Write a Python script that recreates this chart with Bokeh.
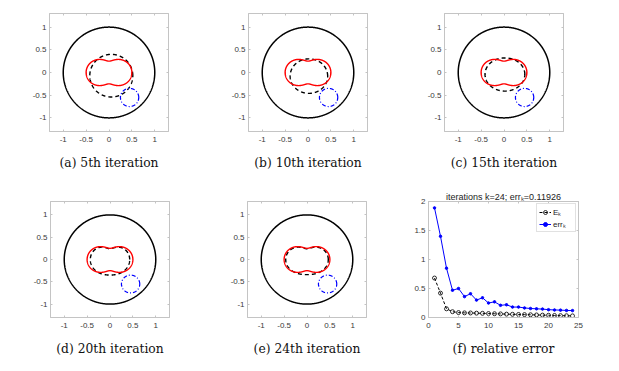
import numpy as np
from bokeh.plotting import figure
from bokeh.layouts import row, column
from bokeh.models import Range1d, FixedTicker, LinearAxis, Legend, LegendItem
from bokeh.embed import file_html
from bokeh.resources import INLINE

# ---------------- data ----------------
captions = ["(a) 5th iteration", "(b) 10th iteration", "(c) 15th iteration",
            "(d) 20th iteration", "(e) 24th iteration"]
circle_ticks = [-1, -0.5, 0, 0.5, 1]
circle_tick_labels = ["-1", "-0.5", "0", "0.5", "1"]

outer_radius = 1.0
source_cx, source_cy, source_r = 0.45, -0.55, 0.2
true_a, true_b = 0.5, 0.25          # peanut obstacle (semi-axes)

# reconstructed boundary per iteration: centre, scales, peanut weight (upper / lower half)
rec_cx    = [0.05, 0.02, 0.02, 0.0, 0.0]
rec_cy    = [-0.07, -0.08, -0.04, 0.0, 0.0]
rec_sx    = [0.47, 0.41, 0.435, 0.43, 0.465]
rec_sy_up = [0.47, 0.40, 0.38, 0.48, 0.48]
rec_sy_dn = [0.47, 0.38, 0.37, 0.41, 0.40]
rec_w_up  = [0.0, 0.1, 0.1, 1.0, 1.0]
rec_w_dn  = [0.0, 0.0, 0.0, 0.3, 0.3]

iters = list(range(1, 25))
E_k = [0.68, 0.42, 0.15, 0.10, 0.085, 0.08, 0.078, 0.075, 0.072, 0.068, 0.065, 0.062,
       0.058, 0.055, 0.052, 0.05, 0.047, 0.044, 0.041, 0.038, 0.035, 0.032, 0.03, 0.028]
err_k = [1.89, 1.40, 0.85, 0.47, 0.50, 0.36, 0.41, 0.30, 0.34, 0.25, 0.27, 0.21,
         0.22, 0.18, 0.18, 0.165, 0.155, 0.15, 0.145, 0.135, 0.13, 0.127, 0.122, 0.11926]
f_xticks = [0, 5, 10, 15, 20, 25]
f_yticks = [0, 0.5, 1, 1.5, 2]
f_ytick_labels = ["0", "0.5", "1", "1.5", "2"]
f_title = "iterations k=24; err\u2096=0.11926"

# ---------------- styling ----------------
FRAME = "#c4c4c4"
TICKLAB = "#3a3a3a"
SANS = "Liberation Sans"
SERIF = "DejaVu Serif"

th = np.linspace(0, 2 * np.pi, 721)
ct, st = np.cos(th), np.sin(th)
peanut_base = np.sqrt(ct ** 2 + (true_b / true_a) ** 2 * st ** 2)


def style_axes(p, xt, xl, yt, yl, caption):
    p.xaxis.ticker = FixedTicker(ticks=xt)
    p.yaxis.ticker = FixedTicker(ticks=yt)
    p.xaxis.major_label_overrides = {t: l for t, l in zip(xt, xl)}
    p.yaxis.major_label_overrides = {t: l for t, l in zip(yt, yl)}
    for ax in (p.xaxis[0], p.yaxis[0]):
        ax.axis_line_color = FRAME
        ax.major_tick_line_color = FRAME
        ax.major_tick_in = 2
        ax.major_tick_out = 0
        ax.minor_tick_line_color = None
        ax.major_label_text_font = SANS
        ax.major_label_text_font_size = "8px"
        ax.major_label_text_color = TICKLAB
    p.xaxis.major_label_standoff = 5
    p.yaxis.major_label_standoff = 3
    p.xaxis.axis_label = caption
    p.xaxis.axis_label_text_font = SERIF
    p.xaxis.axis_label_text_font_size = "12.3px"
    p.xaxis.axis_label_text_font_style = "normal"
    p.xaxis.axis_label_text_color = "#111111"
    p.xaxis.axis_label_standoff = 11
    # mirrored ticks (box on) drawn as unlabeled minor ticks
    for side, tk in (("above", xt), ("right", yt)):
        ax = LinearAxis(ticker=FixedTicker(ticks=[], minor_ticks=tk), axis_line_color=FRAME,
                        major_tick_line_color=None, major_tick_in=0, major_tick_out=0,
                        minor_tick_line_color=FRAME, minor_tick_in=2, minor_tick_out=0,
                        major_label_standoff=0, major_label_text_font_size="1px",
                        axis_label_standoff=0, axis_label_text_font_size="1px")
        p.add_layout(ax, side)
    p.xgrid.grid_line_color = None
    p.ygrid.grid_line_color = None
    p.outline_line_color = FRAME
    p.background_fill_color = "white"
    p.border_fill_color = "white"


def shape_panel(i, width, left, right, height, top, bottom):
    p = figure(width=width, height=height, output_backend="svg", toolbar_location=None,
               x_range=Range1d(-1.3, 1.3), y_range=Range1d(-1.3, 1.3),
               min_border_left=left, min_border_right=right,
               min_border_top=top, min_border_bottom=bottom)
    style_axes(p, circle_ticks, circle_tick_labels, circle_ticks, circle_tick_labels, captions[i])
    # outer circle
    p.line(outer_radius * ct, outer_radius * st, line_color="black", line_width=1.5)
    # reconstruction (dashed)
    w = np.where(st >= 0, rec_w_up[i], rec_w_dn[i])
    sy = np.where(st >= 0, rec_sy_up[i], rec_sy_dn[i])
    rb = (1 - w) + w * peanut_base
    p.line(rec_cx[i] + rec_sx[i] * rb * ct, rec_cy[i] + sy * rb * st,
           line_color="black", line_width=1.4, line_dash="4 3")
    # true obstacle (red)
    p.line(true_a * peanut_base * ct, true_a * peanut_base * st, line_color="#ff0000", line_width=1.4)
    # source circle (blue dash-dot)
    p.line(source_cx + source_r * ct, source_cy + source_r * st, line_color="#0000ff",
           line_width=1.2, line_dash="4 2 1 2")
    return p


pa = shape_panel(0, 200, 49, 32, 187, 13, 56)
pb = shape_panel(1, 199, 48, 32, 187, 13, 56)
pc = shape_panel(2, 219, 45, 55, 187, 13, 56)
pd = shape_panel(3, 200, 50, 31, 183, 12, 53)
pe = shape_panel(4, 199, 47, 33, 183, 12, 53)

# ---------------- error panel ----------------
pf = figure(width=219, height=183, output_backend="svg", toolbar_location=None,
            x_range=Range1d(0, 25), y_range=Range1d(0, 2),
            min_border_left=29, min_border_right=40, min_border_top=14, min_border_bottom=53,
            title=f_title)
pf.title.align = "center"
pf.title.text_font = SANS
pf.title.text_font_size = "9px"
pf.title.text_font_style = "normal"
pf.title.text_color = "#222222"
pf.title.standoff = 0
pf.title.offset = 0
style_axes(pf, f_xticks, [str(t) for t in f_xticks], f_yticks, f_ytick_labels, "(f) relative error")

le = pf.line(iters, E_k, line_color="black", line_width=1, line_dash="3 2")
se = pf.scatter(iters, E_k, marker="circle", size=4, line_color="black", line_width=0.8,
                fill_color=None)
lr = pf.line(iters, err_k, line_color="#0000ff", line_width=1)
sr = pf.scatter(iters, err_k, marker="circle", size=2.5, line_color="#0000ff", fill_color="#0000ff")

legend = Legend(items=[LegendItem(label="E\u2096", renderers=[le, se]),
                       LegendItem(label="err\u2096", renderers=[lr, sr])],
                location="top_right", margin=2, padding=2, spacing=1,
                glyph_width=12, glyph_height=10, label_height=10, label_standoff=2,
                label_text_font=SANS, label_text_font_size="8px", label_text_color="#222222",
                border_line_color=FRAME, background_fill_color="white", background_fill_alpha=1)
pf.add_layout(legend, "center")

layout = column(row(pa, pb, pc), row(pd, pe, pf))
open("out.html", "w").write(file_html(layout, INLINE))
